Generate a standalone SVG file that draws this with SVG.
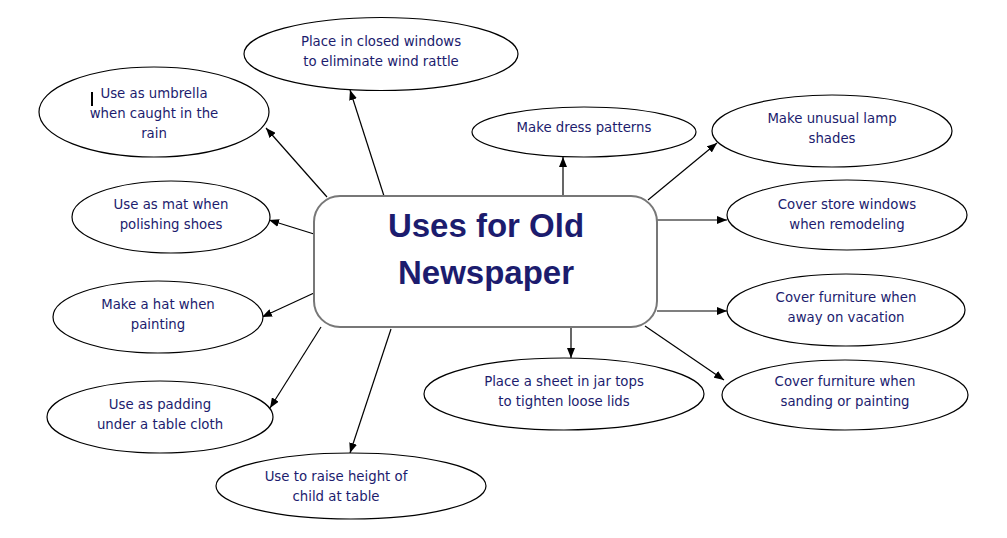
<svg xmlns="http://www.w3.org/2000/svg" width="1007" height="538" viewBox="0 0 1007 538">
<defs>
<marker id="ah" viewBox="0 0 10 8" refX="10" refY="4" markerWidth="10" markerHeight="8" orient="auto" markerUnits="userSpaceOnUse">
<path d="M0,0 L10,4 L0,8 z" fill="#000"/>
</marker>
<style>
.n{fill:#fff;stroke:#000;stroke-width:1.2}
.t{font-family:"DejaVu Sans",Verdana,sans-serif;font-size:13.3px;fill:#1c1c6e;text-anchor:middle}
.c{stroke:#000;stroke-width:1.2;fill:none;marker-end:url(#ah)}
.title{font-family:"Liberation Sans",Arial,sans-serif;font-weight:bold;font-size:33px;fill:#1c1c6e;text-anchor:middle}
</style>
</defs>
<rect width="1007" height="538" fill="#fff"/>
<g id="connectors">
<line class="c" x1="327" y1="197" x2="266" y2="128"/>
<line class="c" x1="384" y1="196" x2="350" y2="90"/>
<line class="c" x1="563" y1="198" x2="563" y2="157"/>
<line class="c" x1="648" y1="200" x2="717" y2="143"/>
<line class="c" x1="657" y1="220" x2="727" y2="220"/>
<line class="c" x1="657" y1="311" x2="727" y2="311"/>
<line class="c" x1="645" y1="326" x2="724" y2="380"/>
<line class="c" x1="571" y1="328" x2="571" y2="358"/>
<line class="c" x1="391" y1="329" x2="350" y2="453"/>
<line class="c" x1="321" y1="327" x2="270" y2="408"/>
<line class="c" x1="314" y1="293" x2="262" y2="317"/>
<line class="c" x1="314" y1="234" x2="269" y2="220"/>
</g>
<g id="center">
<rect x="314" y="196" width="343" height="131" rx="26" ry="26" fill="#fff" stroke="#777" stroke-width="2"/>
<text class="title" x="486" y="237">Uses for Old</text>
<text class="title" x="486" y="284">Newspaper</text>
</g>
<g id="umbrella">
<ellipse class="n" cx="154" cy="112" rx="115" ry="45"/>
<rect x="91" y="92" width="2" height="14" fill="#000"/>
<text class="t" x="154" y="98">Use as umbrella</text>
<text class="t" x="154" y="118">when caught in the</text>
<text class="t" x="154" y="138">rain</text>
</g>
<g id="closed-windows">
<ellipse class="n" cx="381" cy="54" rx="137" ry="36.5"/>
<text class="t" x="381" y="46">Place in closed windows</text>
<text class="t" x="381" y="66">to eliminate wind rattle</text>
</g>
<g id="dress">
<ellipse class="n" cx="584" cy="132" rx="112" ry="25"/>
<text class="t" x="584" y="132">Make dress patterns</text>
</g>
<g id="lamp">
<ellipse class="n" cx="832" cy="131" rx="120" ry="36"/>
<text class="t" x="832" y="123">Make unusual lamp</text>
<text class="t" x="832" y="143">shades</text>
</g>
<g id="store">
<ellipse class="n" cx="847" cy="215" rx="120" ry="35"/>
<text class="t" x="847" y="209">Cover store windows</text>
<text class="t" x="847" y="229">when remodeling</text>
</g>
<g id="vacation">
<ellipse class="n" cx="846" cy="310" rx="119" ry="36"/>
<text class="t" x="846" y="302">Cover furniture when</text>
<text class="t" x="846" y="322">away on vacation</text>
</g>
<g id="sanding">
<ellipse class="n" cx="845" cy="395" rx="123" ry="35"/>
<text class="t" x="845" y="386">Cover furniture when</text>
<text class="t" x="845" y="406">sanding or painting</text>
</g>
<g id="jar">
<ellipse class="n" cx="564" cy="394" rx="140" ry="36"/>
<text class="t" x="564" y="386">Place a sheet in jar tops</text>
<text class="t" x="564" y="406">to tighten loose lids</text>
</g>
<g id="child">
<ellipse class="n" cx="351" cy="486" rx="135" ry="33"/>
<text class="t" x="336" y="481">Use to raise height of</text>
<text class="t" x="336" y="501">child at table</text>
</g>
<g id="padding">
<ellipse class="n" cx="160" cy="417" rx="113" ry="36"/>
<text class="t" x="160" y="409">Use as padding</text>
<text class="t" x="160" y="429">under a table cloth</text>
</g>
<g id="hat">
<ellipse class="n" cx="158" cy="317" rx="105" ry="36"/>
<text class="t" x="158" y="309">Make a hat when</text>
<text class="t" x="158" y="329">painting</text>
</g>
<g id="mat">
<ellipse class="n" cx="171" cy="217" rx="99" ry="36"/>
<text class="t" x="171" y="209">Use as mat when</text>
<text class="t" x="171" y="229">polishing shoes</text>
</g>
</svg>
